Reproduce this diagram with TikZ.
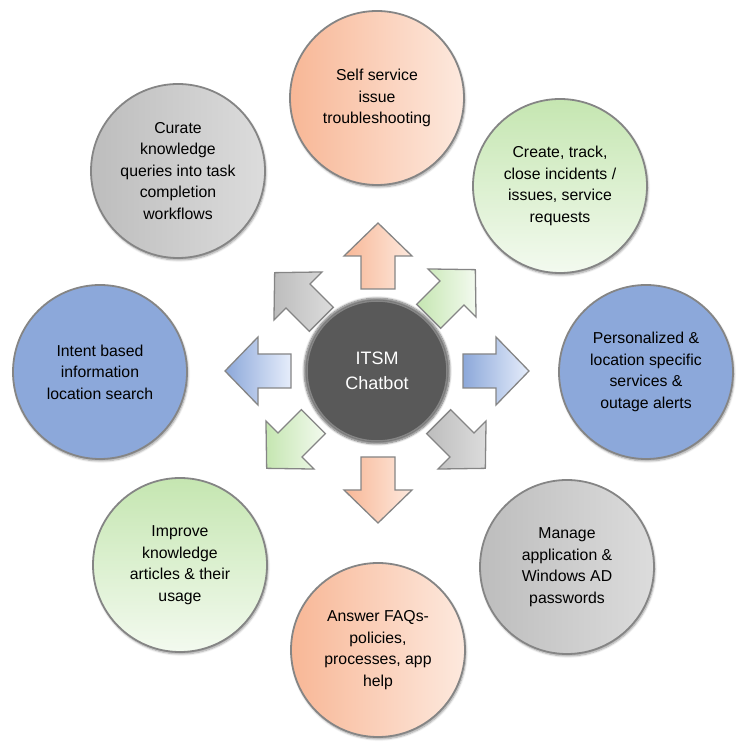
\documentclass[tikz,border=0pt]{standalone}
\usepackage{fontspec}
\setmainfont{Liberation Sans}
\usetikzlibrary{shadows.blur}
\definecolor{orA}{HTML}{F8B796}\definecolor{orB}{HTML}{FDE9DE}
\definecolor{grA}{HTML}{C5E6B1}\definecolor{grB}{HTML}{F3FAEF}
\definecolor{blA}{HTML}{8CA8DA}\definecolor{blB}{HTML}{E6EDFB}
\definecolor{gyA}{HTML}{BDBDBD}\definecolor{gyB}{HTML}{DCDCDC}
\definecolor{ctr}{HTML}{595959}\definecolor{edge}{HTML}{858585}
\begin{document}
\begin{tikzpicture}[x=1pt,y=1pt,
  bub/.style={circle,minimum size=174pt,draw=edge,line width=1.8pt,align=center,
    font=\fontsize{15.8}{21.5}\selectfont,text=black,blur shadow={shadow blur steps=6,shadow xshift=1pt,shadow yshift=-2pt}},
  org/.style={bub,left color=orA,right color=orB},
  grn/.style={bub,top color=grA,bottom color=grB},
  blu/.style={bub,fill=blA},
  gry/.style={bub,left color=gyA,right color=gyB},
  arr/.style={draw=edge,line width=1.3pt,line join=miter}]
\useasboundingbox (0,0) rectangle (748,750);
\node[circle,minimum size=140pt,fill=ctr,draw=edge,line width=1.5pt,text=white,align=center,
  font=\fontsize{18}{25}\selectfont,blur shadow={shadow blur steps=8,shadow xshift=0pt,shadow yshift=0pt,shadow scale=1.04,shadow opacity=60}] (c) at (377,379) {ITSM\\Chatbot};
\node[org] (n1) at (377,652) {Self service\\issue\\troubleshooting};
\node[grn] (n2) at (560,564) {Create, track,\\close incidents /\\issues, service\\requests};
\node[blu] (n3) at (646,378) {Personalized \&\\location specific\\services \&\\outage alerts};
\node[gry] (n4) at (567,183) {Manage\\application \&\\Windows AD\\passwords};
\node[org] (n5) at (378,100) {Answer FAQs-\\policies,\\processes, app\\help};
\node[grn] (n6) at (180,185) {Improve\\knowledge\\articles \& their\\usage};
\node[blu] (n7) at (100,378) {Intent based\\information\\location search};
\node[gry] (n8) at (178,579) {Curate\\knowledge\\queries into task\\completion\\workflows};
\def\arrp{(0,33) -- (34,0) -- (17,0) -- (17,-33) -- (-17,-33) -- (-17,0) -- (-34,0) -- cycle}
\foreach \x/\y/\r/\ca/\cb in {378/494/0/orA/orB, 452/457/-45/grA/grB, 496/379/-90/blA/blB,
  462/305/-135/gyA/gyB, 378/260/180/orA/orB, 290/305/135/grA/grB, 258/379/90/blA/blB, 298/454/45/gyA/gyB}
  {\begin{scope}[shift={(\x,\y)},rotate=\r]
   \draw[arr,left color=\ca,right color=\cb] \arrp;
   \end{scope}}
\end{tikzpicture}
\end{document}
